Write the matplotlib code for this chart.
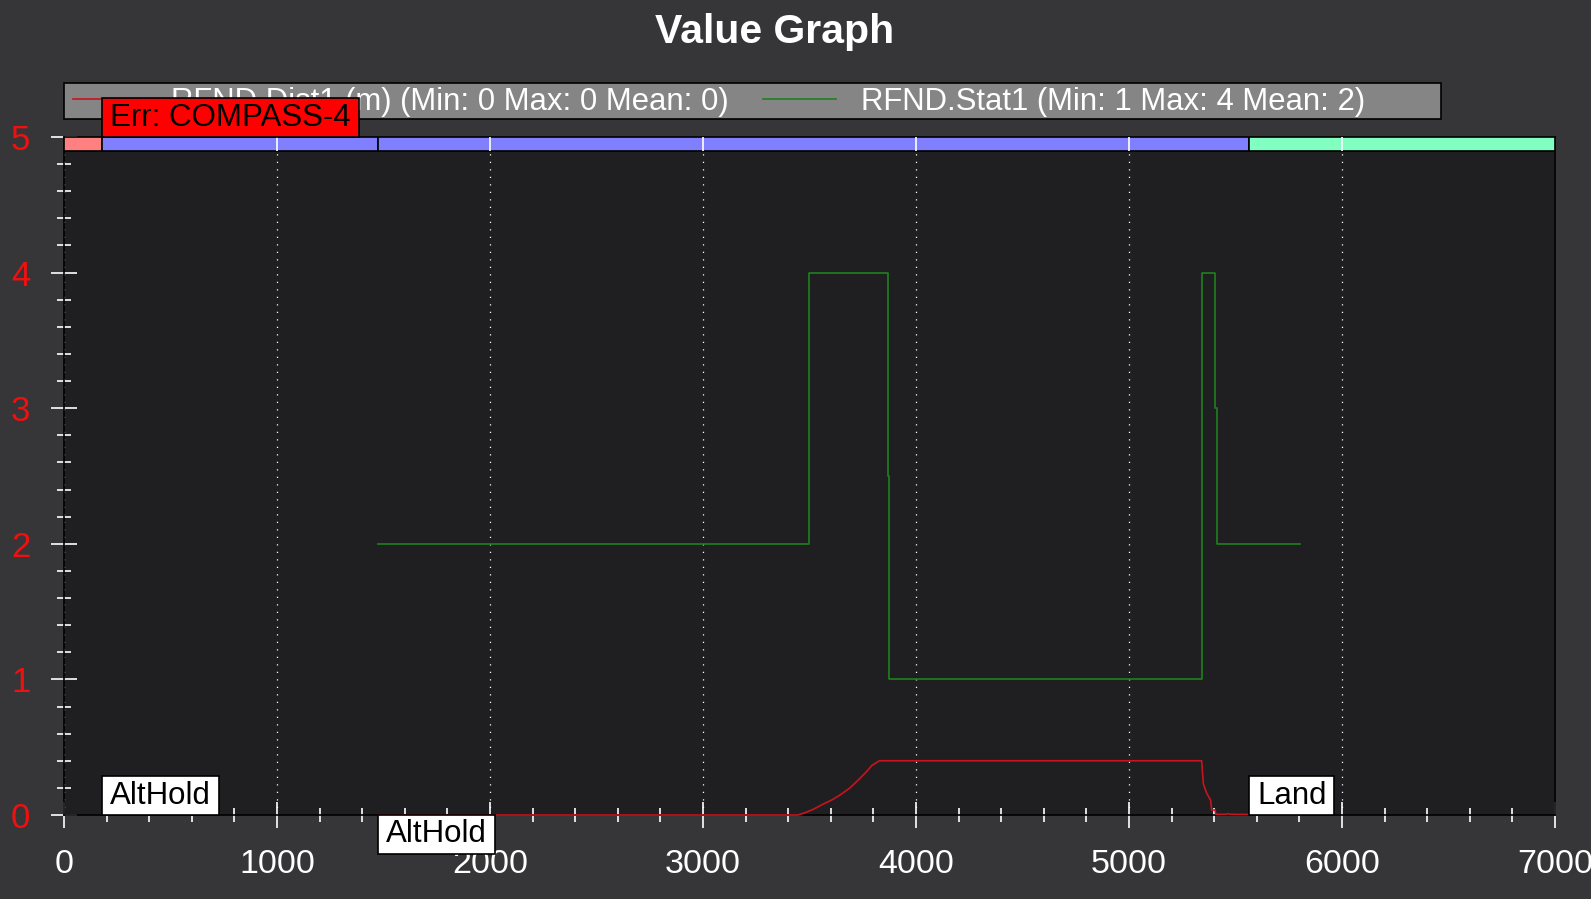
import numpy as np
import matplotlib
matplotlib.use("Agg")
import matplotlib.pyplot as plt
from matplotlib.patches import Rectangle
from matplotlib.path import Path
from matplotlib.ticker import MultipleLocator

plt.rcParams['font.family'] = ['Liberation Sans', 'DejaVu Sans']

# RFND.Dist1 (m)
red_t = [1475, 3447, 3479, 3518, 3565, 3604, 3643, 3690, 3729, 3768, 3792, 3828,
         5341, 5349, 5365, 5383, 5388, 5404, 5408, 5458, 5466, 5474, 5803]
red_v = [0, 0, 0.017, 0.042, 0.081, 0.11, 0.147, 0.20, 0.258, 0.32, 0.364, 0.40,
         0.40, 0.23, 0.16, 0.11, 0.037, 0.037, 0.005, 0.005, 0.01, 0.005, 0.0]

# RFND.Stat1
green_t = [1475, 3498, 3498, 3870, 3870, 3875, 3875, 5341, 5341, 5344, 5344,
           5405, 5405, 5411, 5411, 5803]
green_v = [2, 2, 4, 4, 2.5, 2.5, 1, 1, 2.5, 2.5, 4, 4, 3, 3, 2, 2]

# flight modes (start time, colour) and mode / error labels
mode_start = [0, 180, 1475, 5565]
mode_end = [180, 1475, 5565, 7000]
mode_color = ['#ff8080', '#8080ff', '#8080ff', '#80ffc0']
mode_names = ['AltHold', 'AltHold', 'Land']
mode_name_t = [180, 1475, 5565]
mode_name_below = [False, True, False]
err_t = 180
err_text = 'Err: COMPASS-4'

label1 = 'RFND.Dist1 (m) (Min: 0 Max: 0 Mean: 0)'
label2 = 'RFND.Stat1 (Min: 1 Max: 4 Mean: 2)'

PX, PY = 0.25, 0.14
TAG_FS = 22.5


def tag_box(x0, y0, width, height, mutation_size):
    # wider left/right padding than top/bottom
    px = PX * mutation_size
    py = PY * mutation_size
    x0 -= px
    y0 -= py
    x1 = x0 + width + 2 * px
    y1 = y0 + height + 2 * py
    return Path([(x0, y0), (x1, y0), (x1, y1), (x0, y1), (x0, y0)], closed=True)


W, H = 1591, 899
fig = plt.figure(figsize=(W / 100, H / 100), dpi=100)
fig.patch.set_facecolor('#363638')
ax = fig.add_axes([64 / W, (H - 815) / H, (1555 - 64) / W, (815 - 137) / H])
ax.set_facecolor('#1f1f21')

l1, = ax.plot(red_t, red_v, color='#c8141e', lw=1.2, zorder=4, clip_on=False)
l2, = ax.plot(green_t, green_v, color='#1e801e', lw=1.2, zorder=4)

ax.set_xlim(0, 7000)
ax.set_ylim(0, 5)
ax.xaxis.set_major_locator(MultipleLocator(1000))
ax.xaxis.set_minor_locator(MultipleLocator(200))
ax.yaxis.set_major_locator(MultipleLocator(1))
ax.yaxis.set_minor_locator(MultipleLocator(0.2))

ax.tick_params(axis='both', which='major', direction='inout', length=18.5,
               width=1.2, color='white')
ax.tick_params(axis='both', which='minor', direction='inout', length=9.5,
               width=1.2, color='white')
ax.tick_params(axis='x', which='major', labelsize=24.5, labelcolor='white', pad=15)
ax.tick_params(axis='y', which='major', labelsize=25, labelcolor='#f01010', pad=15)

for s in ax.spines.values():
    s.set_color('black')
    s.set_linewidth(1.2)

ax.grid(axis='x', which='major', color='white', lw=0.9, linestyle=(0, (1, 5)))

# mode band at top of plot
for a, b, c in zip(mode_start, mode_end, mode_color):
    ax.add_patch(Rectangle((a, 4.9), b - a, 0.1, facecolor=c, edgecolor='black',
                           lw=1.2, zorder=3))
ax.vlines(np.arange(1000, 7000, 1000), 4.9, 5, color='white', lw=1.2, zorder=3.5)

# tag offsets in points
dx = PX * TAG_FS
dy = PY * TAG_FS

# mode labels
for name, t, below in zip(mode_names, mode_name_t, mode_name_below):
    if below:
        ax.annotate(name, (t, 0), xytext=(dx, -dy), textcoords='offset points',
                    ha='left', va='top', fontsize=TAG_FS, color='black', zorder=7,
                    annotation_clip=False,
                    bbox=dict(boxstyle=tag_box, fc='white', ec='black', lw=1.2))
    else:
        ax.annotate(name, (t, 0), xytext=(dx, dy), textcoords='offset points',
                    ha='left', va='bottom', fontsize=TAG_FS, color='black', zorder=7,
                    annotation_clip=False,
                    bbox=dict(boxstyle=tag_box, fc='white', ec='black', lw=1.2))

ax.annotate(err_text, (err_t, 5), xytext=(dx, dy), textcoords='offset points',
            ha='left', va='bottom', fontsize=TAG_FS, color='black', zorder=8,
            annotation_clip=False,
            bbox=dict(boxstyle=tag_box, fc='#ff0000', ec='black', lw=1.2))

# legend box (behind the axes so the legend and tags sit on top)
box = Rectangle((64 / W, (H - 119) / H), (1441 - 64) / W, 36 / H,
                transform=fig.transFigure, facecolor='#858585',
                edgecolor='black', lw=1.2, zorder=-1)
fig.patches.append(box)
leg = ax.legend([l1, l2], [label1, label2], loc='center left',
                bbox_to_anchor=(73 / W, (H - 102) / H), bbox_transform=fig.transFigure,
                ncol=2, frameon=False, fontsize=22.4, handlelength=2.35,
                handletextpad=0.8, columnspacing=1.1, borderpad=0, borderaxespad=0)
for t in leg.get_texts():
    t.set_color('white')
leg.set_zorder(6)

fig.text(775 / W, (H - 43) / H, 'Value Graph', ha='center', va='baseline',
         fontsize=29.5, fontweight='bold', color='white')

fig.savefig('out.png', dpi=100, facecolor=fig.get_facecolor())
